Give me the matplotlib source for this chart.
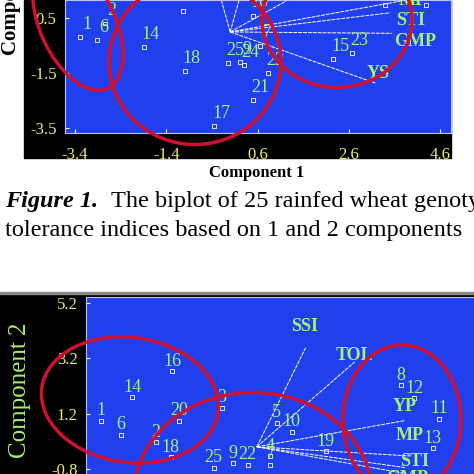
import matplotlib
matplotlib.use("Agg")
import matplotlib.pyplot as plt
from matplotlib.patches import Ellipse, Rectangle

W = 474
BLUE = "#2040f0"; GREEN = "#a8f070"; YEL = "#f0f060"; RED = "#d01030"
SERIF = ["Liberation Serif", "DejaVu Serif"]

# Top biplot
t_geno = ["1", "6", "2", "14", "18", "25", "9", "24", "7", "22", "21", "17", "15", "23", "10", "13"]
t_x = [-3.29, -2.92, -2.74, -1.89, -0.99, -0.04, 0.22, 0.30, 0.66, 0.83, 0.50, -0.35, 2.26, 2.67, 0.50, 3.40]
t_y = [-0.20, -0.31, 0.31, -0.54, -1.43, -1.13, -1.09, -1.20, -0.50, -1.50, -2.50, -3.46, -0.98, -0.76, 0.60, 1.00]
t_empty_x = [-1.03, 4.30]
t_empty_y = [0.76, 1.00]
t_vec = ["STI", "GMP", "YS", "MP", "", "", ""]
t_vx = [3.50, 3.55, 3.18, 3.80, -0.2, 0.2, 1.3]
t_vy = [0.70, -0.05, -1.87, 1.15, 1.2, 1.2, 1.2]
t_xticks = [-3.4, -1.4, 0.6, 2.6, 4.6]
t_yticks = [0.5, -1.5, -3.5]

# Bottom biplot
b_geno = ["16", "14", "1", "20", "2", "6", "18", "3", "5", "10", "19", "9", "22", "4", "7", "25", "8", "12", "11", "13"]
b_x = [-1.86, -2.74, -3.42, -1.71, -2.21, -2.98, -1.89, -0.77, 0.44, 0.77, 1.51, -0.53, -0.20, 0.29, 0.29, -0.95, 3.16, 3.46, 4.01, 3.86]
b_y = [2.74, 1.79, 0.94, 0.94, 0.17, 0.43, -0.38, 1.42, 0.87, 0.54, -0.16, -0.60, -0.65, -0.34, -0.65, -0.75, 2.23, 1.75, 1.02, -0.05]
b_vec = ["SSI", "TOL", "YP", "MP", "STI", "GMP"]
b_vx = [1.07, 2.15, 3.25, 3.35, 3.25, 3.20]
b_vy = [3.58, 3.07, 0.95, -0.33, -0.75, -0.95]
b_yticks = [5.2, 3.2, 1.2, -0.8]

fig = plt.figure(figsize=(4.74, 4.74), dpi=100)
fig.patch.set_facecolor("white")

def fr(x0, y0, x1, y1):
    return [x0 / W, 1 - y1 / W, (x1 - x0) / W, (y1 - y0) / W]

fig.add_artist(Rectangle((24 / W, 1 - 158 / W), (451 - 24) / W, 158 / W, transform=fig.transFigure, color="black", zorder=0))
fig.add_artist(Rectangle((0, 0), 1, (474 - 294) / W, transform=fig.transFigure, color="black", zorder=0))
fig.add_artist(Rectangle((0, 1 - 294 / W), 1, 2 / W, transform=fig.transFigure, color="#888888", zorder=0))

def style(ax):
    ax.set_facecolor(BLUE)
    for s in ax.spines.values():
        s.set_color("#c0c0ff")
    ax.tick_params(direction="in", colors="white", length=3, labelcolor=YEL, labelsize=12)
    for l in ax.get_xticklabels() + ax.get_yticklabels():
        l.set_family(SERIF)

ax1 = fig.add_axes(fr(65, 0, 451, 133))
ax1.set_xlim(-3.62, 4.84); ax1.set_ylim(-3.7, 1.17)
ax1.set_xticks(t_xticks); ax1.set_yticks(t_yticks)
ax1.set_xticklabels([str(v) for v in t_xticks]); ax1.set_yticklabels([str(v) for v in t_yticks])
style(ax1)
ax1.tick_params(axis="x", pad=10)
ax1.tick_params(axis="y", pad=6)
t_lab = {"STI": (3.95, 0.25), "GMP": (4.06, -0.5), "YS": (3.24, -1.7), "MP": (4.0, 1.0)}
for vx, vy, n in zip(t_vx, t_vy, t_vec):
    ax1.plot([0, vx], [0, vy], color="white", lw=0.7, ls=(0, (4, 1)))
    if n:
        lx, ly = t_lab[n]
        ax1.text(lx, ly, n, color=GREEN, fontsize=13, family=SERIF, fontweight="bold", ha="center")
ax1.scatter(t_x + t_empty_x, t_y + t_empty_y, marker="s", s=8, facecolors="none", edgecolors="white", lw=0.6)
for x, y, n in zip(t_x, t_y, t_geno):
    ax1.text(x + 0.15, y + 0.3, n, color=GREEN, fontsize=13, family=SERIF, ha="center")

ax2 = fig.add_axes(fr(86, 297, 480, 480))
ax2.set_xlim(-3.75, 4.9); ax2.set_ylim(-1.2, 5.42)
ax2.set_yticks(b_yticks); ax2.set_yticklabels([str(v) for v in b_yticks])
ax2.set_xticks([-3.4, -1.4, 0.6, 2.6, 4.6]); ax2.set_xticklabels([])
style(ax2)
ax2.tick_params(axis="y", pad=6)
b_lab = {"SSI": (1.05, 4.2), "TOL": (2.15, 3.15), "YP": (3.25, 1.3), "MP": (3.35, 0.25),
         "STI": (3.46, -0.7), "GMP": (3.3, -1.3)}
for vx, vy, n in zip(b_vx, b_vy, b_vec):
    ax2.plot([0, vx], [0, vy], color="white", lw=0.7, ls=(0, (4, 1)))
    lx, ly = b_lab[n]
    ax2.text(lx, ly, n, color=GREEN, fontsize=13, family=SERIF, fontweight="bold", ha="center")
ax2.scatter(b_x, b_y, marker="s", s=8, facecolors="none", edgecolors="white", lw=0.6)
for x, y, n in zip(b_x, b_y, b_geno):
    ax2.text(x, y + 0.2, n, color=GREEN, fontsize=13, family=SERIF, ha="center")

for cx, cy, w, h, a in [(78, 25, 75, 140, 25), (195, 62, 172, 165, 0), (337, 20, 150, 135, 0),
                        (130, 400, 178, 125, -8), (253, 495, 238, 205, 0), (402, 420, 118, 150, 0)]:
    fig.add_artist(Ellipse((cx / W, 1 - cy / W), w / W, h / W, angle=a, transform=fig.transFigure,
                           fill=False, ec=RED, lw=2.5, zorder=5))

fig.text(11 / W, 1 + 5 / W, "Component 2", rotation=90, ha="center", va="center", family=SERIF,
         fontweight="bold", fontsize=15, color="black")
fig.text(20 / W, 1 - 390 / W, "Component 2", rotation=90, ha="center", va="center", family=SERIF,
         fontsize=18, color=GREEN)
fig.text(257 / W, 1 - 173 / W, "Component 1", ha="center", va="center", family=SERIF, fontweight="bold", fontsize=12)
fig.text(5 / W, 1 - 201 / W, "Figure 1.", ha="left", va="center", family=SERIF, fontweight="bold", style="italic", fontsize=17.5)
fig.text(111 / W, 1 - 201 / W, "The biplot of 25 rainfed wheat genotypes", ha="left", va="center", family=SERIF, fontsize=17.5)
fig.text(5 / W, 1 - 230 / W, "tolerance indices based on 1 and 2 components", ha="left", va="center", family=SERIF, fontsize=17.5)

fig.savefig("out.png", dpi=100)
